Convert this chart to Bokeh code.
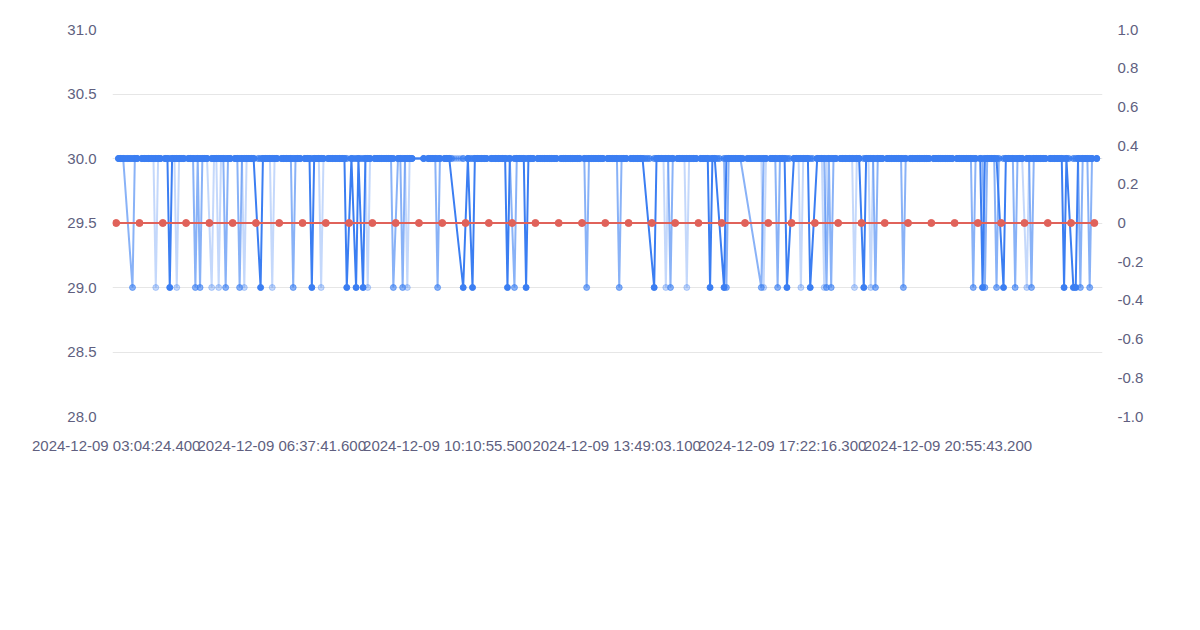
import pandas as pd
from bokeh.plotting import figure
from bokeh.models import Range1d, LinearAxis, FixedTicker, CustomJSTickFormatter
from bokeh.embed import file_html
from bokeh.resources import INLINE

# ---------------- data ----------------
START = "2024-12-09 03:04:24.400"
SLOT_MINUTES = 3  # one reading slot = 3 minutes

x_tick_labels = [
    "2024-12-09 03:04:24.400",
    "2024-12-09 06:37:41.600",
    "2024-12-09 10:10:55.500",
    "2024-12-09 13:49:03.100",
    "2024-12-09 17:22:16.300",
    "2024-12-09 20:55:43.200",
]
left_ticks = [28.0, 28.5, 29.0, 29.5, 30.0, 30.5, 31.0]
right_ticks = [-1.0, -0.8, -0.6, -0.4, -0.2, 0.0, 0.2, 0.4, 0.6, 0.8, 1.0]

# red series (right axis): minutes after START and values
red_minutes = [0, 30, 60, 90, 120, 150, 180, 210, 240, 270, 300, 330, 360, 390,
               420, 450, 480, 510, 540, 570, 600, 630, 660, 690, 720, 750, 780,
               810, 840, 870, 900, 930, 960, 990, 1020, 1050, 1080, 1110, 1140,
               1170, 1200, 1230, 1260]
red_values = [0, 0, 0, 0, 0, 0, 0, 0, 0, 0, 0, 0, 0, 0, 0, 0, 0, 0, 0, 0, 0, 0,
              0, 0, 0, 0, 0, 0, 0, 0, 0, 0, 0, 0, 0, 0, 0, 0, 0, 0, 0, 0, 0]

# blue series readings, one char per 3-minute slot: h = 30, l = 29, . = no reading
dark_readings = """
.hhhhhhhhh .hhhhhhhhh .hhlhhhhhh .hhhhhhhhh .hhhhhhhhh
.hhhhhhhhh ..lhhhhhhh .hhhhhhhhh .hhhlhhhhh .hhhhhhhhl
.h.lh.lhhh .hhhhhhhhh .hhhhhhh.. ..h.hhhhhh .hhh.....l
.h.lhhhhhh .hhhhhhhlh .hhhhhlhhh .hhhhhhhhh .hhhhhhhhh
.hhhhhhhhh .hhhhhhhhh .hhhhhh... .lhhhhhhhh .hhhhhhhhh
.hhhhlhh.. .lhhhhhhhh .hhhhhhhhh .hhhhhhhl. .hhhhhhhl.
.hhhhhhhhh .hhhhhhhhh .lhhhhhhhh .hhhhhhhhh .hhhhhhhhh
.hhhhhhhhh .hhhhhhhhh .hlhhhhhh. .lhhhhhhhh .hhhhhhhhh
.hhhhhhlh. .llhhhhhhh .h
"""
medium_readings = """
.hhh...lhh .hhhhhhhhh .hhhhhhhhh .hhhlhlhhh .hhhhhhlhh
.hhlhhhhhh .hhhhhhhhh .hhhhhlhhh .hhhhhhhhh .hhhhhhhhh
.hhhhhhhhh .hhhhhhhhl .hhlhhhh.. ..h.hhhhlh .hhhh....h
.hhhhhhhhh .hhhhhhhhh .lhhhhhhhh .hhhhhhhhh .hhhhhhhhh
.hlhhhhhhh .hhhhhlhhh .hhhhhhhhh .hhhhhhhlh .hhhhhhhhh
.hhhhhhhhh .hlhhhhhh. .......lhh .hhhlhhhhh .hhhhhhhhh
.hhhhlhlhh .hhhhhhhhh .hhhhhlhhh .hhhhhhhlh .hhhhhhhhh
.hhhhhhhhh .hhhhhhhlh .hhlhhhhlh .hhhhhlhhh .hhlhhhhhh
.hhhhhhhhh .hhhlhhhlh .h
"""
light_readings = """
.hhhhhhhhh .hhhhhhlhh .hhhhhlhhh .hhhhhhhhh .lhhlhhhhh
.hhhhlhhhh .hhhhhhlhh .hhhhhhhhh .hhhhhhhlh .hhhhhhhhh
.hhhhhhhlh .hhhhhhhhh .hhhhlhh.. ..h.hhhhhh .hhhhhhhhh
.hhhhhhhhh .hhhhhhhhh .hhhhhhhhh .hhhhhhhhh .hhhhhhhhh
.hhhhhhhhh .hhhhhhhhh .hhhhhhhhh .hhhhhlhhh .hhhhlhhhh
.hhhhhhhhh .hhhhhhhhh .hhhhhhhlh .hhhhhhhhh .hhhlhhhhh
.hhhlhhhhh .hhhhhhlhh .hhhlhhhhh .hhhhhhhhh .hhhhhhhhh
.hhhhhhhhh .hhhhhhhhh .hhhhhhhhh .hhhhhhhhh .lhhhhhhhh
.hhhhhhhhh .hhhhhhhhh .h
"""

LEVEL = {"h": 30.0, "l": 29.0}


def decode(readings):
    chars = "".join(readings.split())
    xs, ys = [], []
    for i, ch in enumerate(chars):
        if ch in LEVEL:
            xs.append(i * SLOT_MINUTES)
            ys.append(LEVEL[ch])
    return xs, ys


start_ts = pd.Timestamp(START)
tick_minutes = [(pd.Timestamp(t) - start_ts).total_seconds() / 60.0 for t in x_tick_labels]

# ---------------- styling ----------------
BLUE = "#3B7EF2"
RED = "#E0625A"
TEXT = "#605F80"
FONT = "Liberation Sans"

p = figure(
    frame_width=990, frame_height=387,
    min_border_left=112, min_border_right=88, min_border_top=29, min_border_bottom=50,
    x_range=Range1d(-4.77, 1270.5), y_range=Range1d(28.0, 31.0),
    output_backend="svg", toolbar_location=None,
)
p.extra_y_ranges = {"right": Range1d(-1.0, 1.0)}
p.outline_line_color = None
p.background_fill_color = "white"
p.border_fill_color = "white"
p.xgrid.visible = False
p.ygrid.grid_line_color = "#E6E6E6"
p.ygrid.grid_line_width = 1
p.ygrid.ticker = FixedTicker(ticks=left_ticks)


def style_axis(ax, standoff):
    ax.axis_line_color = None
    ax.major_tick_line_color = None
    ax.minor_tick_line_color = None
    ax.major_tick_in = 0
    ax.major_tick_out = 0
    ax.major_label_text_color = TEXT
    ax.major_label_text_font = FONT
    ax.major_label_text_font_size = "15px"
    ax.major_label_standoff = standoff


# left axis
yax = p.yaxis[0]
yax.ticker = FixedTicker(ticks=left_ticks)
yax.formatter = CustomJSTickFormatter(code="return tick.toFixed(1);")
style_axis(yax, 16)

# bottom axis
xax = p.xaxis[0]
xax.ticker = FixedTicker(ticks=tick_minutes)
xax.formatter = CustomJSTickFormatter(args=dict(labels=x_tick_labels),
                                      code="return labels[index];")
style_axis(xax, 20)

# right axis
rax = LinearAxis(y_range_name="right",
                 ticker=FixedTicker(ticks=right_ticks),
                 formatter=CustomJSTickFormatter(
                     code="return Math.abs(tick) < 1e-9 ? '0' : tick.toFixed(1);"))
style_axis(rax, 15)
p.add_layout(rax, "right")

# blue series (light, medium, dark)
for readings, alpha in ((light_readings, 0.3), (medium_readings, 0.6), (dark_readings, 1.0)):
    xs, ys = decode(readings)
    p.line(xs, ys, line_color=BLUE, line_width=2, line_alpha=alpha)
    p.scatter(xs, ys, size=6, fill_color=BLUE, line_color=BLUE,
              fill_alpha=alpha, line_alpha=alpha)

# red series on right axis
p.line(red_minutes, red_values, y_range_name="right", line_color=RED, line_width=2)
p.scatter(red_minutes, red_values, y_range_name="right", size=7,
          fill_color=RED, line_color=RED)

with open("out.html", "w") as f:
    f.write(file_html(p, INLINE))
